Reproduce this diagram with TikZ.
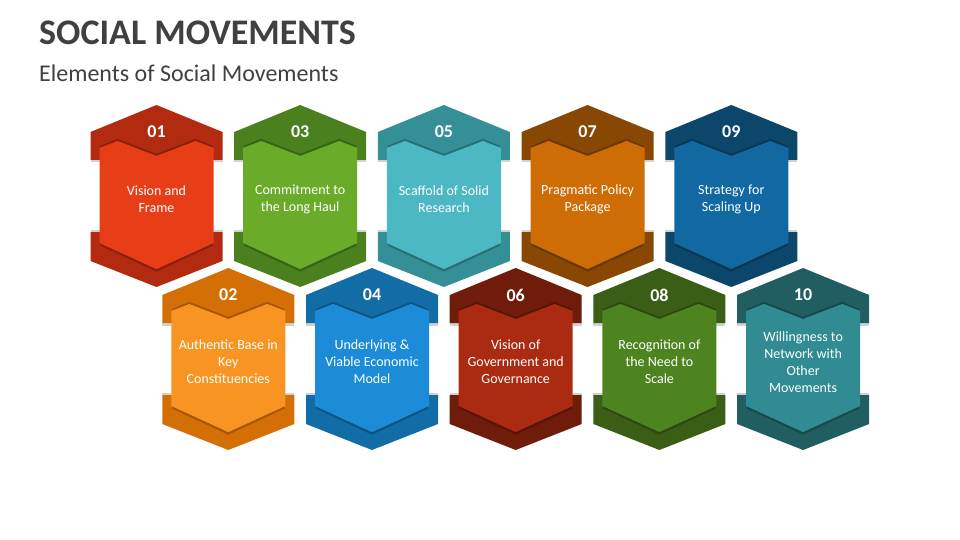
\documentclass[tikz,border=0pt]{standalone}
\usepackage{fontspec}
\setmainfont{Carlito}
\definecolor{titlegray}{HTML}{404040}
\definecolor{oA}{HTML}{B22A10}\definecolor{iA}{HTML}{E83E18}
\definecolor{oB}{HTML}{D46F06}\definecolor{iB}{HTML}{F79422}
\definecolor{oC}{HTML}{4A801E}\definecolor{iC}{HTML}{6AAC2A}
\definecolor{oD}{HTML}{126CA6}\definecolor{iD}{HTML}{1C8CD8}
\definecolor{oE}{HTML}{349096}\definecolor{iE}{HTML}{4CB8C4}
\definecolor{oF}{HTML}{701C0A}\definecolor{iF}{HTML}{AA2A12}
\definecolor{oG}{HTML}{884804}\definecolor{iG}{HTML}{CE6C06}
\definecolor{oH}{HTML}{3A5E16}\definecolor{iH}{HTML}{4E8420}
\definecolor{oI}{HTML}{0C466A}\definecolor{iI}{HTML}{1268A0}
\definecolor{oJ}{HTML}{205E62}\definecolor{iJ}{HTML}{308C92}
\tikzset{
  hexnum/.style={text=white, inner sep=0pt, font=\bfseries\fontsize{18}{20}\selectfont},
  hextext/.style={text=white, align=center, inner sep=0pt, font=\fontsize{14}{17}\selectfont},
  hexshadow/.style={draw=black, opacity=.22, line width=2.2pt, line join=round},
  notchshadow/.style={fill=black, opacity=.18},
}
% #1 name, #2 cx, #3 cy, #4 outer, #5 inner, #6 number, #7 text, #8 white rim (0/1)
\newcommand\hexcell[8]{%
\begin{scope}[shift={(#2,#3)}]
  \ifnum#8=1
    \filldraw[white, line width=3.5pt, line join=round]
      (-66,-64) -- (0,-91) -- (66,-64) -- (66,65) -- (0,91) -- (-66,65) -- cycle;
  \fi
  \fill[notchshadow] (-66,-36) rectangle (-57,-33.5);
  \fill[notchshadow] (57,-36) rectangle (66,-33.5);
  \fill[notchshadow] (-66,36) rectangle (-57,33.5);
  \fill[notchshadow] (57,36) rectangle (66,33.5);
  \fill[#4] (-66,-64) -- (0,-91) -- (66,-64) -- (66,-36) -- (-66,-36) -- cycle;
  \fill[#4] (-66,36) -- (66,36) -- (66,65) -- (0,91) -- (-66,65) -- cycle;
  \draw[hexshadow] (-56,-49) -- (-39,-56) -- (0,-41) -- (39,-56) -- (56,-49);
  \draw[hexshadow] (-56,48.5) -- (0,74.5) -- (56,48.5);
  \fill[#5] (-57,-48) -- (-39,-55) -- (0,-40) -- (39,-55) -- (57,-48)
     -- (57,47) -- (0,73) -- (-57,47) -- cycle;
  \node[hexnum] (#1num) at (0,-64) {#6};
  \node[hextext] (#1txt) at (0,3) {#7};
\end{scope}}
\begin{document}
\begin{tikzpicture}[x=1pt,y=-1pt]
\useasboundingbox (0,0) rectangle (960,540);
\fill[white] (0,0) rectangle (960,540);
\node[anchor=base west, inner sep=0pt, text=titlegray, font=\bfseries\fontsize{36}{40}\selectfont] (title) at (39,45) {SOCIAL MOVEMENTS};
\node[anchor=base west, inner sep=0pt, text=titlegray, font=\fontsize{24}{28}\selectfont] (subtitle) at (39,82) {Elements of Social Movements};
% top row
\hexcell{h01}{156.5}{196}{oA}{iA}{01}{Vision and\\Frame}{0}
\hexcell{h03}{300.2}{196}{oC}{iC}{03}{Commitment to\\the Long Haul}{0}
\hexcell{h05}{443.9}{196}{oE}{iE}{05}{Scaffold of Solid\\Research}{0}
\hexcell{h07}{587.6}{196}{oG}{iG}{07}{Pragmatic Policy\\Package}{0}
\hexcell{h09}{731.3}{196}{oI}{iI}{09}{Strategy for\\Scaling Up}{0}
% bottom row
\hexcell{h02}{228.3}{359}{oB}{iB}{02}{Authentic Base in\\Key\\Constituencies}{1}
\hexcell{h04}{372.0}{359}{oD}{iD}{04}{Underlying \&\\Viable Economic\\Model}{1}
\hexcell{h06}{515.7}{359}{oF}{iF}{06}{Vision of\\Government and\\Governance}{1}
\hexcell{h08}{659.4}{359}{oH}{iH}{08}{Recognition of\\the Need to\\Scale}{1}
\hexcell{h10}{803.1}{359}{oJ}{iJ}{10}{Willingness to\\Network with\\Other\\Movements}{1}
\end{tikzpicture}
\end{document}
